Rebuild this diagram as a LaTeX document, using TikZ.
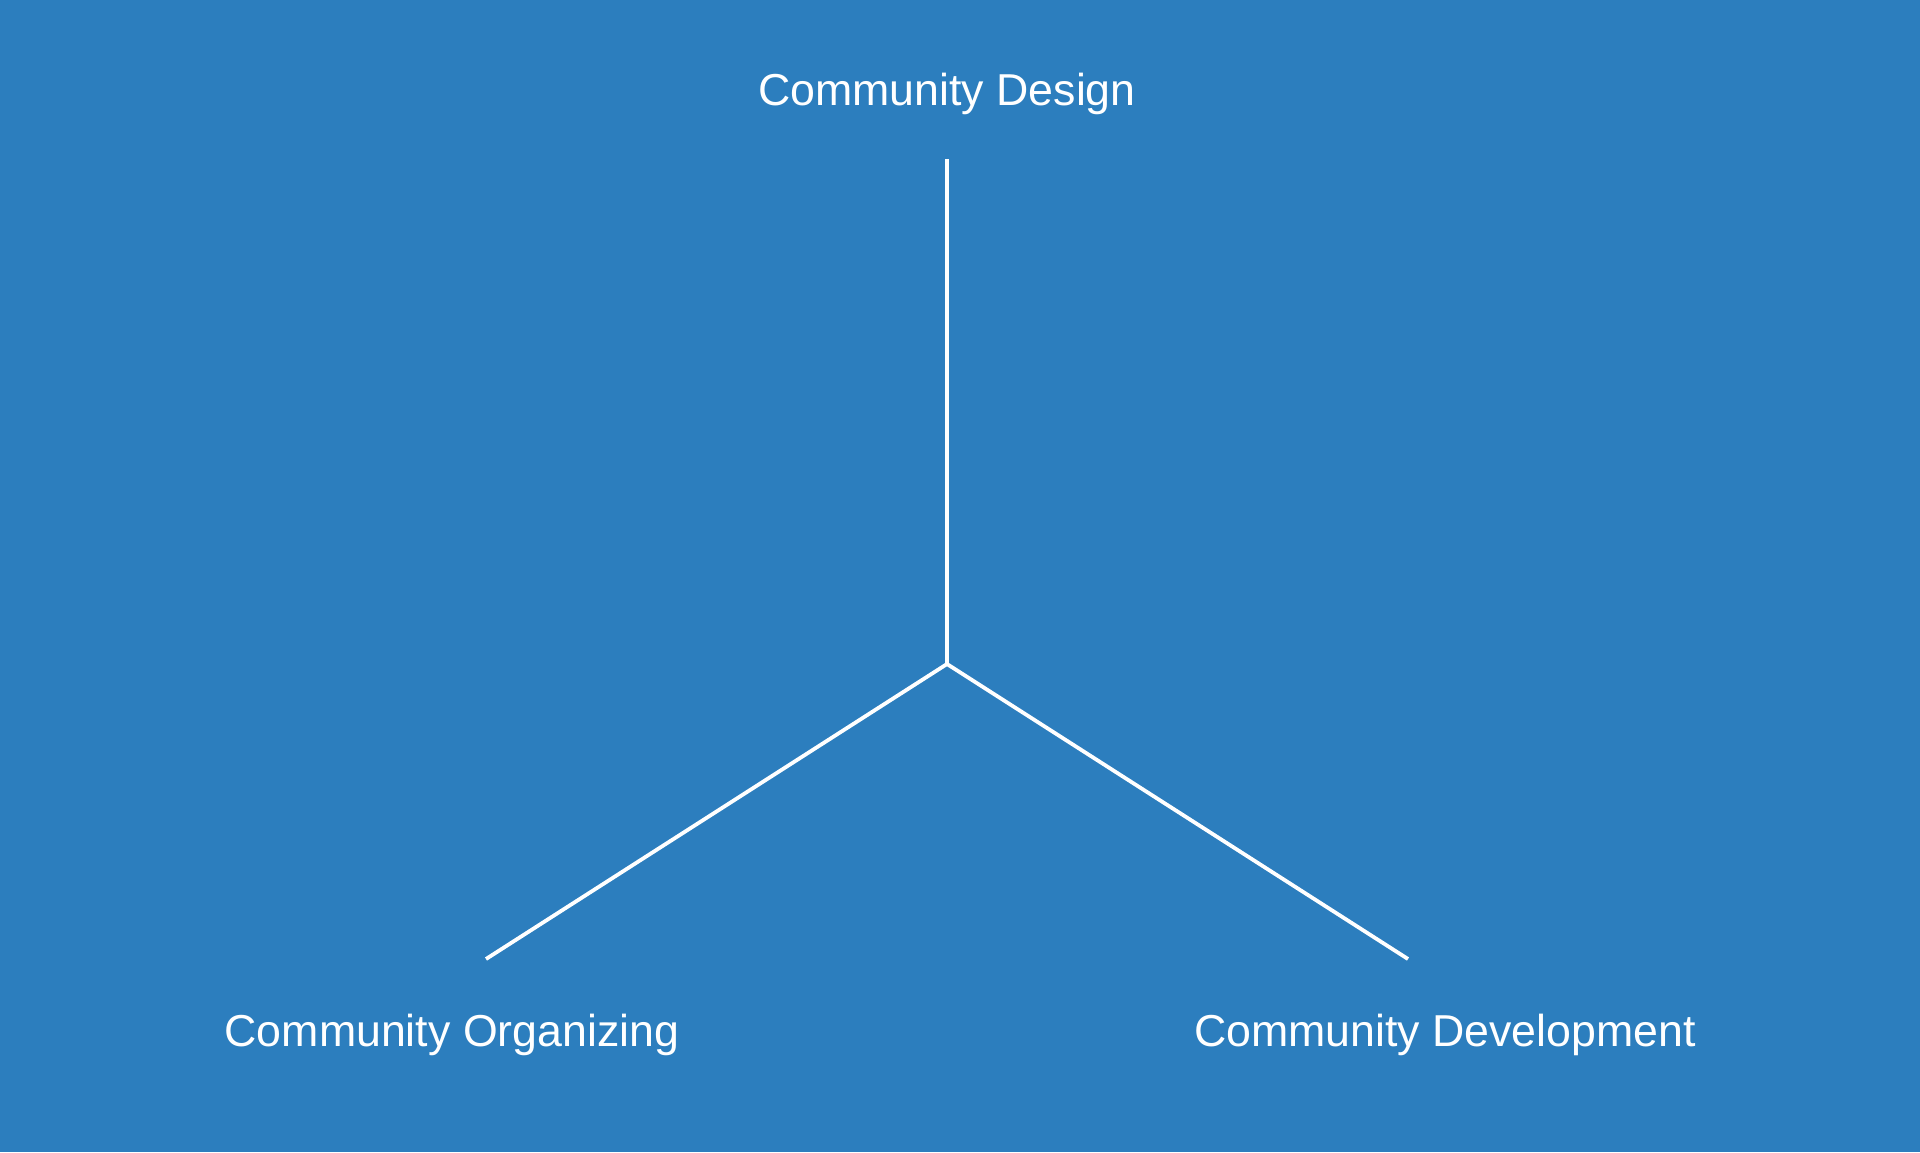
\documentclass[tikz,border=0pt]{standalone}
\usepackage{fontspec}
\setmainfont{Liberation Sans}
\definecolor{bgblue}{HTML}{2C7EBE}
\begin{document}
\begin{tikzpicture}[x=1pt,y=-1pt,
  lbl/.style={text=white,font=\fontsize{44.7}{52}\selectfont,inner sep=0pt,anchor=center},
  wire/.style={draw=white,line width=3.8pt}]
\fill[bgblue] (0,0) rectangle (1920,1152);
\useasboundingbox (0,0) rectangle (1920,1152);
\node[lbl] (design) at (947,94) {Community Design};
\node[lbl] (org) at (452,1035) {Community Organizing};
\node[lbl] (dev) at (1445,1035) {Community Development};
\coordinate (c) at (947,664);
\coordinate (top) at (947,159);
\coordinate (l) at (486,959);
\coordinate (r) at (1408,959);
\draw[wire] (top) -- (c) -- (l);
\draw[wire] (c) -- (r);
\end{tikzpicture}
\end{document}
